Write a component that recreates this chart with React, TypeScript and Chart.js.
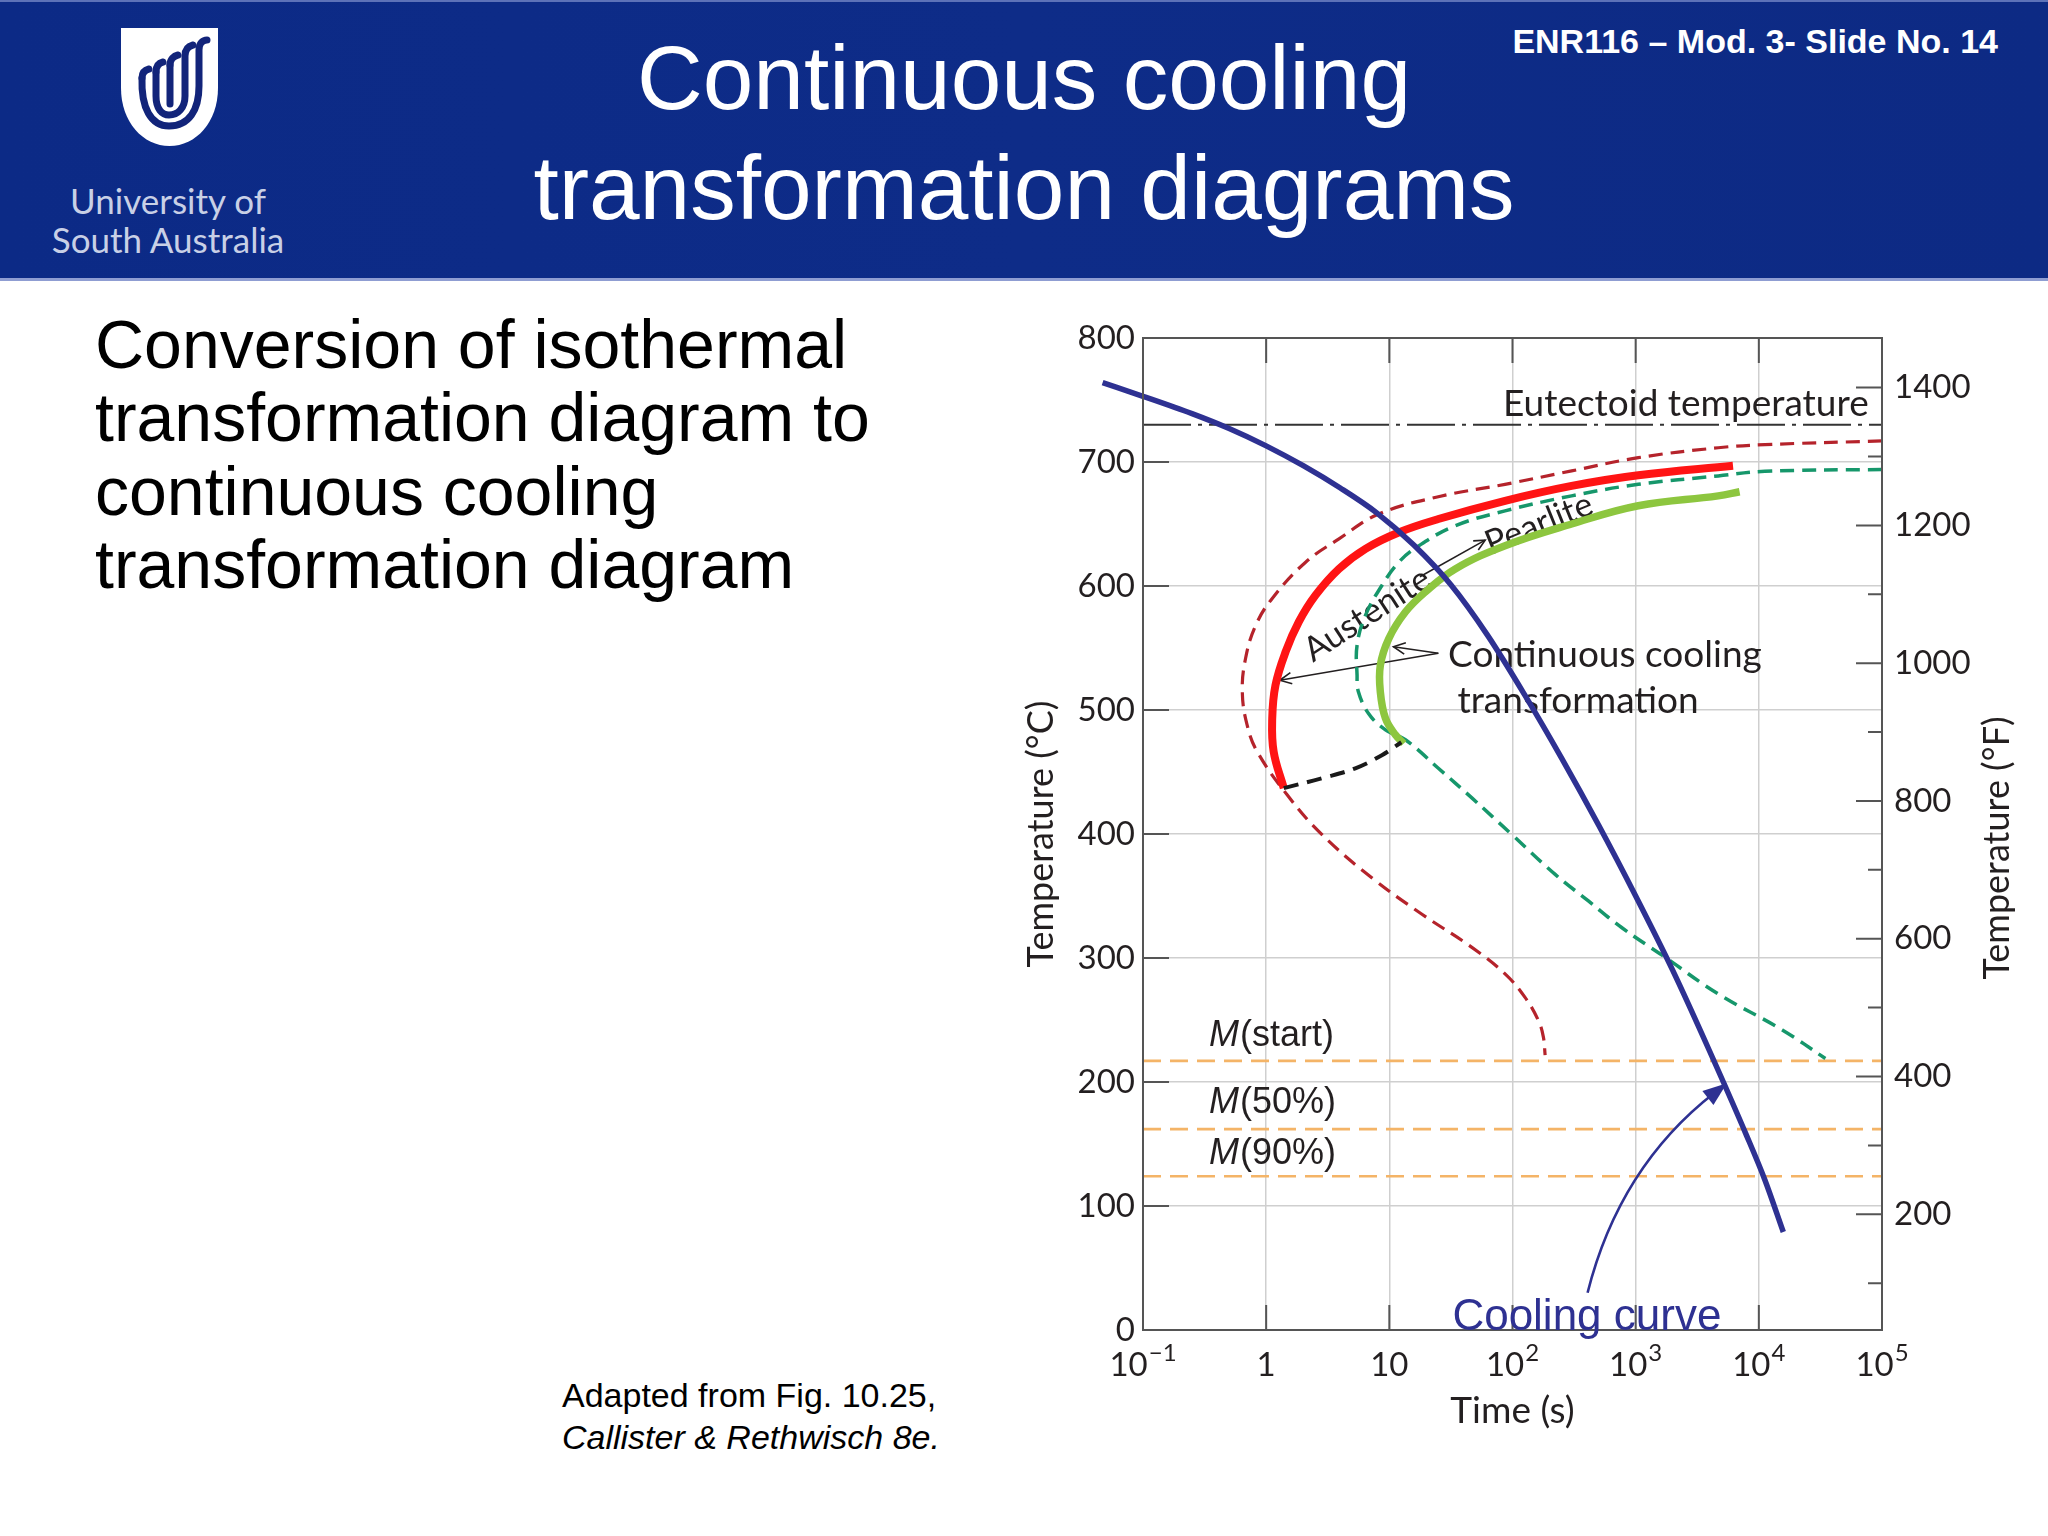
import React, { useEffect, useRef } from 'react';
import { Chart, registerables } from 'chart.js';

Chart.register(...registerables);

const FONT = 'Lato, "Noto Sans", sans-serif';
const ARIAL = '"Liberation Sans", Arial, sans-serif';
const INK = '#231f20';
const BLUE = '#2e3192';

// ---- data (time in s, temperature in °C) ----
const coolingTime = [0.047, 0.1, 0.25, 0.5, 1, 2, 4, 7.9, 15.8, 31.6, 63, 126, 251, 501, 1000, 2000, 3980, 7940, 11200, 15800];
const coolingTemp = [764, 753, 739, 727, 713, 697, 679, 659, 633, 601, 560, 512, 461, 407, 350, 290, 225, 157, 121, 79];

const cctStartTime = [6170, 1050, 302, 87, 25, 11.9, 6.4, 3.9, 2.51, 1.84, 1.44, 1.19, 1.12, 1.15, 1.39];
const cctStartTemp = [697, 689.3, 680.7, 668.7, 654, 643.2, 630, 613.8, 592.4, 571, 547, 520, 493.3, 466.5, 437];

const cctFinishTime = [6980, 4680, 1050, 302, 87, 34.3, 19.5, 13.5, 9.9, 8.45, 8.45, 9.3, 11.2, 13.1];
const cctFinishTemp = [676, 672.7, 664.7, 650, 632.5, 613.8, 595, 579, 557.6, 536, 514.7, 493.3, 480, 473];

const itStartTime = [100000, 11200, 4680, 1050, 302, 87, 25, 8.2, 3.9, 2.08, 1.12, 0.82, 0.68, 0.64, 0.7, 0.845, 1.48, 2.84, 7.2, 18.4, 46.8, 87, 126, 162, 178, 184];
const itStartTemp = [717, 714, 711.5, 703.5, 692.8, 682, 672, 658, 638, 619, 590, 568, 541.5, 514.7, 488, 466.5, 431.6, 399.5, 364.7, 335.3, 308.6, 287.2, 268.4, 249.7, 236.4, 221.7];

const itFinishTime = [100000, 11200, 4680, 1050, 302, 87, 34.3, 17.4, 11.9, 8.7, 6.4, 5.47, 5.47, 5.6, 6.8, 9.3, 13.5, 25, 47, 99, 222, 413, 769, 1740, 4680, 15500, 34700];
const itFinishTemp = [694, 692.5, 688.8, 682, 672.7, 660.6, 648.6, 632.5, 619.1, 600.4, 576.3, 552.2, 528.1, 515, 497, 484, 476, 453, 428.9, 399.5, 367.4, 346, 324.6, 300.5, 271, 242, 219];

const stopTime = [1.39, 2.84, 5.3, 8.7, 12.5];
const stopTemp = [437, 445, 453, 463.6, 474];

const timeRange = [0.1, 100000];
const eutectoidTemp = 730;
const mStartTemp = 217;
const m50Temp = 162;
const m90Temp = 124;

// ---- ticks ----
const xTickValues = [0.1, 1, 10, 100, 1000, 10000, 100000];
const xTickBase = ['10', '1', '10', '10', '10', '10', '10'];
const xTickExp = ['\u22121', '', '', '2', '3', '4', '5'];
const yTickValues = [0, 100, 200, 300, 400, 500, 600, 700, 800];
const fMajorTicks = [200, 400, 600, 800, 1000, 1200, 1400];
const fMinorTicks = [100, 300, 500, 700, 900, 1100, 1300];

// ---- annotation anchors (data coordinates: [time s, temp °C]) ----
const eutectoidLabelAt = [78000, 737];
const austeniteAt = [6.6, 577];
const pearliteAt = [164, 650];
const apArrowFrom = [17.7, 607.5];
const apArrowTo = [60, 637];
const cctLine1At = [30, 535];
const cctLine2At = [35.7, 497.3];
const cctArrowFrom = [25, 545.7];
const cctArrowToRed = [1.29, 524];
const cctArrowToGreen = [10.8, 551];
const mLabelTime = 0.344;
const mStartLabelTemp = 229;
const m50LabelTemp = 175;
const m90LabelTemp = 134;
const coolingLabelAt = [32.5, 0];
const coolingArrowFrom = [407, 30];
const coolingArrowVia = [1050, 123];
const coolingArrowTo = [5500, 199];

const cToF = (c: number) => c * 9 / 5 + 32;

function pts(xs: number[], ys: number[]) {
  return xs.map((x, i) => ({ x, y: ys[i] }));
}

function ds(label: string, xs: number[], ys: number[], color: string, width: number, dash: number[], order: number, extra: any = {}) {
  return {
    label,
    data: pts(xs, ys),
    borderColor: color,
    backgroundColor: color,
    borderWidth: width,
    borderDash: dash,
    pointRadius: 0,
    tension: 0.4,
    fill: false,
    order,
    ...extra,
  };
}

function openHead(ctx: CanvasRenderingContext2D, fx: number, fy: number, tx: number, ty: number, size: number) {
  const a = Math.atan2(ty - fy, tx - fx);
  ctx.beginPath();
  ctx.moveTo(tx - size * Math.cos(a - 0.45), ty - size * Math.sin(a - 0.45));
  ctx.lineTo(tx, ty);
  ctx.lineTo(tx - size * Math.cos(a + 0.45), ty - size * Math.sin(a + 0.45));
  ctx.stroke();
}

function filledHead(ctx: CanvasRenderingContext2D, fx: number, fy: number, tx: number, ty: number, len: number, half: number) {
  const a = Math.atan2(ty - fy, tx - fx);
  const bx = tx - len * Math.cos(a);
  const by = ty - len * Math.sin(a);
  ctx.beginPath();
  ctx.moveTo(tx, ty);
  ctx.lineTo(bx + half * Math.sin(a), by - half * Math.cos(a));
  ctx.lineTo(bx - half * Math.sin(a), by + half * Math.cos(a));
  ctx.closePath();
  ctx.fill();
}

const decorPlugin = {
  id: 'decor',
  beforeDatasetsDraw(chart: any) {
    const { ctx, scales } = chart;
    const X = (t: number) => scales.x.getPixelForValue(t);
    const Y = (c: number) => scales.y.getPixelForValue(c);
    ctx.save();
    ctx.fillStyle = INK;
    ctx.textBaseline = 'alphabetic';

    // Eutectoid label
    ctx.font = `37px ${FONT}`;
    ctx.textAlign = 'right';
    ctx.fillText('Eutectoid temperature', X(eutectoidLabelAt[0]), Y(eutectoidLabelAt[1]));

    // Austenite / Pearlite
    ctx.font = `34px ${FONT}`;
    ctx.textAlign = 'center';
    ctx.textBaseline = 'middle';
    ctx.save();
    ctx.translate(X(austeniteAt[0]), Y(austeniteAt[1]));
    ctx.rotate(-33 * Math.PI / 180);
    ctx.fillText('Austenite', 0, 0);
    ctx.restore();
    ctx.save();
    ctx.translate(X(pearliteAt[0]), Y(pearliteAt[1]));
    ctx.rotate(-22 * Math.PI / 180);
    ctx.fillText('Pearlite', 0, 0);
    ctx.restore();

    // arrows
    ctx.strokeStyle = INK;
    ctx.lineWidth = 1.6;
    const ax1 = X(apArrowFrom[0]), ay1 = Y(apArrowFrom[1]);
    const ax2 = X(apArrowTo[0]), ay2 = Y(apArrowTo[1]);
    ctx.beginPath(); ctx.moveTo(ax1, ay1); ctx.lineTo(ax2, ay2); ctx.stroke();
    openHead(ctx, ax1, ay1, ax2, ay2, 12);

    const cx0 = X(cctArrowFrom[0]), cy0 = Y(cctArrowFrom[1]);
    for (const tgt of [cctArrowToRed, cctArrowToGreen]) {
      const tx = X(tgt[0]), ty = Y(tgt[1]);
      ctx.beginPath(); ctx.moveTo(cx0, cy0); ctx.lineTo(tx, ty); ctx.stroke();
      openHead(ctx, cx0, cy0, tx, ty, 13);
    }

    // CCT text
    ctx.textAlign = 'left';
    ctx.textBaseline = 'alphabetic';
    ctx.font = `37px ${FONT}`;
    ctx.fillText('Continuous cooling', X(cctLine1At[0]), Y(cctLine1At[1]));
    ctx.fillText('transformation', X(cctLine2At[0]), Y(cctLine2At[1]));

    // M labels
    const mx = X(mLabelTime);
    const mLabels: [string, number][] = [['(start)', mStartLabelTemp], ['(50%)', m50LabelTemp], ['(90%)', m90LabelTemp]];
    for (const [rest, temp] of mLabels) {
      ctx.font = `italic 36px ${ARIAL}`;
      ctx.fillText('M', mx, Y(temp));
      const w = ctx.measureText('M').width;
      ctx.font = `36px ${ARIAL}`;
      ctx.fillText(rest, mx + w + 1, Y(temp));
    }
    ctx.restore();
  },
  afterDatasetsDraw(chart: any) {
    const { ctx, chartArea, scales } = chart;
    const { left, right, top, bottom } = chartArea;
    const X = (t: number) => scales.x.getPixelForValue(t);
    const Y = (c: number) => scales.y.getPixelForValue(c);
    const YF = (f: number) => scales.yF.getPixelForValue(f);
    ctx.save();

    // frame
    ctx.strokeStyle = '#555';
    ctx.lineWidth = 2;
    ctx.strokeRect(left, top, right - left, bottom - top);

    // inward ticks
    ctx.beginPath();
    for (const v of yTickValues) {
      const p = Y(v);
      ctx.moveTo(left, p); ctx.lineTo(left + 26, p);
    }
    for (const v of xTickValues) {
      const p = X(v);
      ctx.moveTo(p, bottom); ctx.lineTo(p, bottom - 25);
      ctx.moveTo(p, top); ctx.lineTo(p, top + 25);
    }
    for (const v of fMajorTicks) {
      const p = YF(v);
      ctx.moveTo(right, p); ctx.lineTo(right - 26, p);
    }
    for (const v of fMinorTicks) {
      const p = YF(v);
      ctx.moveTo(right, p); ctx.lineTo(right - 14, p);
    }
    ctx.stroke();

    // x tick labels with superscripts
    ctx.fillStyle = INK;
    ctx.textBaseline = 'alphabetic';
    ctx.textAlign = 'left';
    xTickValues.forEach((v, i) => {
      ctx.font = `33px ${FONT}`;
      const bw = ctx.measureText(xTickBase[i]).width;
      ctx.font = `24px ${FONT}`;
      const ew = xTickExp[i] ? ctx.measureText(xTickExp[i]).width + 1 : 0;
      const x0 = X(v) - (bw + ew) / 2;
      ctx.font = `33px ${FONT}`;
      ctx.fillText(xTickBase[i], x0, bottom + 46);
      if (xTickExp[i]) {
        ctx.font = `24px ${FONT}`;
        ctx.fillText(xTickExp[i], x0 + bw + 1, bottom + 31);
      }
    });

    // right axis title (reads bottom-to-top)
    ctx.save();
    ctx.font = `36px ${FONT}`;
    ctx.textAlign = 'center';
    ctx.textBaseline = 'middle';
    ctx.translate(chart.width - 51, (top + bottom) / 2 + 14);
    ctx.rotate(-Math.PI / 2);
    ctx.fillText('Temperature (\u00b0F)', 0, 0);
    ctx.restore();

    // cooling curve label + arrow
    ctx.fillStyle = BLUE;
    ctx.strokeStyle = BLUE;
    ctx.font = `44px ${ARIAL}`;
    ctx.textAlign = 'left';
    ctx.fillText('Cooling curve', X(coolingLabelAt[0]), Y(coolingLabelAt[1]));
    const p0x = X(coolingArrowFrom[0]), p0y = Y(coolingArrowFrom[1]);
    const p2x = X(coolingArrowTo[0]), p2y = Y(coolingArrowTo[1]);
    const mxp = X(coolingArrowVia[0]), myp = Y(coolingArrowVia[1]);
    const c1x = 2 * mxp - (p0x + p2x) / 2;
    const c1y = 2 * myp - (p0y + p2y) / 2;
    const hx = p2x - c1x, hy = p2y - c1y;
    const hl = Math.hypot(hx, hy);
    const ex = p2x - (hx / hl) * 16, ey = p2y - (hy / hl) * 16;
    ctx.lineWidth = 2.6;
    ctx.beginPath();
    ctx.moveTo(p0x, p0y);
    ctx.quadraticCurveTo(c1x, c1y, ex, ey);
    ctx.stroke();
    filledHead(ctx, c1x, c1y, p2x, p2y, 24, 9);
    ctx.restore();
  },
};

function Logo() {
  return (
    <svg width={97} height={118} viewBox="0 0 97 118" style={{ position: 'absolute', left: 121, top: 28 }}>
      <path d="M0,0 H97 V60 C97,94 75,118 48.5,118 C22,118 0,94 0,60 Z" fill="#ffffff" />
      <g fill="none" stroke="#12247a" strokeWidth={7} strokeLinecap="round">
        <path d="M21,50 C20,80 30,98 48,98 C68,98 78,82 78,58 L78,22 C78,15 82,12 86,12" />
        <path d="M21,50 C21,44 24,42 28,41" />
        <path d="M35,44 L35,68 C35,81 41,87 48,87 C57,87 64,80 64,68 L64,28 C64,21 68,18 72,17" />
        <path d="M35,44 C35,38 38,35 42,34" />
        <path d="M49,37 L49,76" />
        <path d="M49,37 C49,31 53,28 57,27" />
      </g>
    </svg>
  );
}

export default function App() {
  const ref = useRef<HTMLCanvasElement>(null);

  useEffect(() => {
    const canvas = ref.current;
    if (!canvas) return;
    const lineAt = (temp: number) => [temp, temp];
    const chart = new Chart(canvas, {
      type: 'line',
      data: {
        datasets: [
          ds('Cooling curve', coolingTime, coolingTemp, BLUE, 5.5, [], 0, { clip: false, cubicInterpolationMode: 'monotone' }),
          ds('Stop', stopTime, stopTemp, '#1a1a1a', 4, [15, 9], 1),
          ds('CCT start', cctStartTime, cctStartTemp, '#ff1414', 8, [], 2),
          ds('CCT finish', cctFinishTime, cctFinishTemp, '#8dc63f', 7.5, [], 3),
          ds('IT start', itStartTime, itStartTemp, '#b5232b', 3.2, [14, 8], 4),
          ds('IT finish', itFinishTime, itFinishTemp, '#16976b', 3.5, [14, 8], 5),
          ds('Eutectoid', timeRange, lineAt(eutectoidTemp), '#333333', 2, [48, 7, 4, 7], 6, { tension: 0 }),
          ds('M(start)', timeRange, lineAt(mStartTemp), '#f4b467', 2.6, [18, 9], 7, { tension: 0 }),
          ds('M(50%)', timeRange, lineAt(m50Temp), '#f4b467', 2.6, [18, 9], 8, { tension: 0 }),
          ds('M(90%)', timeRange, lineAt(m90Temp), '#f4b467', 2.6, [18, 9], 9, { tension: 0 }),
        ],
      },
      options: {
        responsive: false,
        animation: false,
        devicePixelRatio: 1,
        events: [],
        layout: { padding: { top: 38, left: 0, right: 0, bottom: 0 } },
        plugins: { legend: { display: false }, tooltip: { enabled: false }, title: { display: false } },
        scales: {
          x: {
            type: 'logarithmic',
            position: 'bottom',
            min: timeRange[0],
            max: timeRange[1],
            afterBuildTicks: (s: any) => { s.ticks = xTickValues.map((v) => ({ value: v })); },
            afterFit: (s: any) => { s.height = 170; },
            ticks: { display: false },
            grid: { color: '#cfcfcf', lineWidth: 1.5, drawTicks: false },
            border: { display: false },
            title: { display: true, text: 'Time (s)', color: INK, font: { family: FONT, size: 37 }, padding: { top: 0, bottom: 67 } },
          },
          y: {
            type: 'linear',
            position: 'left',
            min: 0,
            max: 800,
            afterBuildTicks: (s: any) => { s.ticks = yTickValues.map((v) => ({ value: v })); },
            afterFit: (s: any) => { s.width = 143; },
            ticks: { color: INK, font: { family: FONT, size: 33 }, padding: 8 },
            grid: { color: '#cfcfcf', lineWidth: 1.5, drawTicks: false },
            border: { display: false },
            title: { display: true, text: 'Temperature (\u00b0C)', color: INK, font: { family: FONT, size: 36 }, padding: { top: 20, bottom: 0 } },
          },
          yF: {
            type: 'linear',
            position: 'right',
            min: cToF(0),
            max: cToF(800),
            afterBuildTicks: (s: any) => { s.ticks = fMajorTicks.map((v) => ({ value: v })); },
            afterFit: (s: any) => { s.width = 166; },
            ticks: { color: INK, font: { family: FONT, size: 33 }, padding: 12, callback: (v: any) => String(v) },
            grid: { display: false, drawTicks: false },
            border: { display: false },
          },
        },
      } as any,
      plugins: [decorPlugin],
    });
    return () => chart.destroy();
  }, []);

  return (
    <div style={{ position: 'absolute', left: 0, top: 0, width: 2048, height: 1536, background: '#ffffff', overflow: 'hidden', fontFamily: ARIAL }}>
      <div style={{ position: 'absolute', left: 0, top: 0, width: 2048, height: 281, background: 'linear-gradient(90deg, #0c2a86 0%, #0e2c88 50%, #0d2a84 100%)', borderTop: '2px solid #5d72b8', borderBottom: '3px solid #8f9dd2', boxSizing: 'border-box' }} />
      <Logo />
      <div style={{ position: 'absolute', left: 28, width: 280, top: 181, textAlign: 'center', color: '#c8d0e6', fontFamily: FONT, fontSize: 35, lineHeight: '39px' }}>
        University of<br />South Australia
      </div>
      <div style={{ position: 'absolute', left: 0, width: 2048, top: 23, textAlign: 'center', color: '#ffffff', fontSize: 91, lineHeight: '110px' }}>
        Continuous cooling<br />transformation diagrams
      </div>
      <div style={{ position: 'absolute', right: 50, top: 25, color: '#ffffff', fontSize: 34, lineHeight: '33px', fontWeight: 'bold' }}>
        ENR116 – Mod. 3- Slide No. 14
      </div>
      <div style={{ position: 'absolute', left: 95, top: 308, color: '#000000', fontSize: 68, lineHeight: '73.3px' }}>
        Conversion of isothermal<br />transformation diagram to<br />continuous cooling<br />transformation diagram
      </div>
      <div style={{ position: 'absolute', left: 562, top: 1374, color: '#000000', fontSize: 34, lineHeight: '42px' }}>
        Adapted from Fig. 10.25,<br /><i>Callister &amp; Rethwisch 8e.</i>
      </div>
      <canvas ref={ref} width={1048} height={1200} style={{ position: 'absolute', left: 1000, top: 300, width: 1048, height: 1200 }} />
    </div>
  );
}
